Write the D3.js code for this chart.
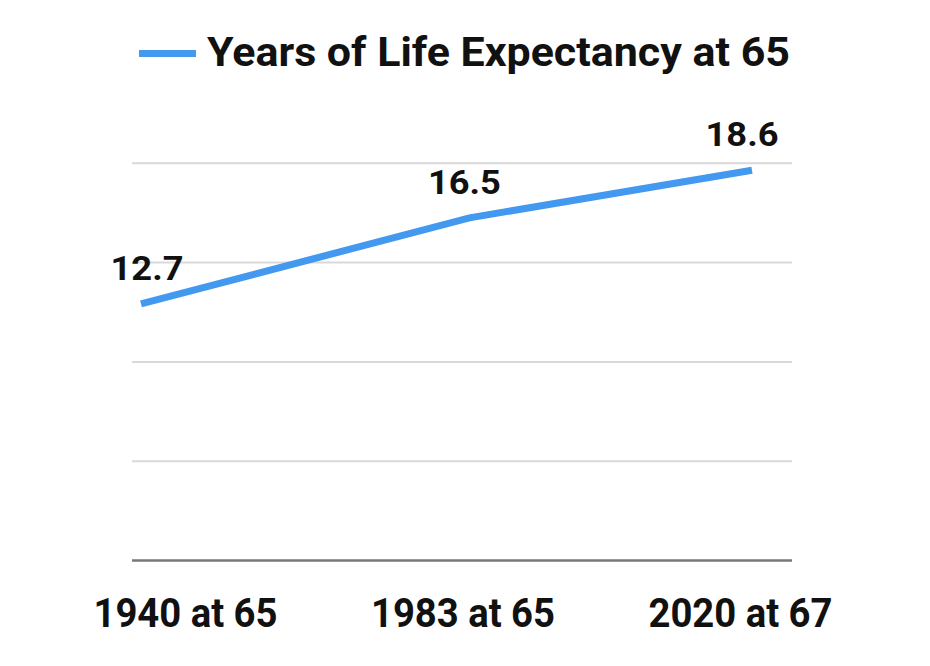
<!DOCTYPE html>
<html>
<head>
<meta charset="utf-8">
<script src="https://cdn.jsdelivr.net/npm/d3@7"></script>
<style>
  html, body { margin: 0; padding: 0; background: #fff; }
  svg { display: block; }
  text { font-family: Roboto, "Liberation Sans", sans-serif; fill: #111; }
</style>
</head>
<body>
<svg id="chart" width="930" height="666"></svg>
<script>
// ---- data ----
const categories = ["1940 at 65", "1983 at 65", "2020 at 67"];
const years = [1940, 1983, 2020];
const values = [12.7, 16.5, 18.6];
const seriesName = "Years of Life Expectancy at 65";
const gridCount = 5;

// ---- layout ----
const W = 930, H = 666;
const plotLeft = 132, plotRight = 792, plotTop = 163.3, plotBottom = 560.5;
const lineColor = "#4399ef";

const svg = d3.select("#chart");

const y = d3.scaleLinear().domain([1.37, 18.91]).range([plotBottom, plotTop]);
const xLine = d3.scaleLinear().domain([1940, 2020]).range([141, 752]);
const xAxis = d3.scalePoint().domain(categories).range([185, 740]);

// gridlines
const yDom = y.domain();
const gridVals = d3.range(gridCount).map(i => yDom[0] + i * (yDom[1] - yDom[0]) / (gridCount - 1));
svg.append("g").selectAll("line")
  .data(gridVals.slice(1))
  .join("line")
  .attr("x1", plotLeft).attr("x2", plotRight)
  .attr("y1", d => y(d)).attr("y2", d => y(d))
  .attr("stroke", "#d9d9d9").attr("stroke-width", 2);

// baseline
svg.append("line")
  .attr("x1", plotLeft).attr("x2", plotRight)
  .attr("y1", y(yDom[0])).attr("y2", y(yDom[0]))
  .attr("stroke", "#777").attr("stroke-width", 2.5);

// x axis labels
const axisG = svg.append("g").attr("transform", `translate(0,${plotBottom})`)
  .call(d3.axisBottom(xAxis).tickSize(0).tickPadding(0));
axisG.select(".domain").remove();
axisG.selectAll("text")
  .attr("y", 66).attr("dy", null)
  .style("font-family", "Roboto, sans-serif")
  .style("font-size", "40px").style("font-weight", 700)
  .style("fill", "#111")
  .attr("textLength", 184).attr("lengthAdjust", "spacingAndGlyphs");

// line
const pts = years.map((yr, i) => ({ yr, v: values[i] }));
svg.append("path")
  .datum(pts)
  .attr("fill", "none")
  .attr("stroke", lineColor)
  .attr("stroke-width", 7)
  .attr("stroke-linejoin", "miter")
  .attr("d", d3.line().x(d => xLine(d.yr)).y(d => y(d.v)));

// value labels
const fmt = d3.format(".1f");
svg.append("g").selectAll("text")
  .data(pts)
  .join("text")
  .attr("x", d => xLine(d.yr) + (d.yr === 1940 ? 6 : (d.yr === 2020 ? -10 : -5)))
  .attr("y", d => y(d.v) - 24)
  .attr("text-anchor", "middle")
  .style("font-size", "34px").style("font-weight", 700)
  .attr("textLength", 73).attr("lengthAdjust", "spacingAndGlyphs")
  .text(d => fmt(d.v));

// legend
svg.append("line")
  .attr("x1", 139).attr("x2", 196).attr("y1", 53.5).attr("y2", 53.5)
  .attr("stroke", lineColor).attr("stroke-width", 7);
svg.append("text")
  .attr("x", 207).attr("y", 66)
  .style("font-size", "41px").style("font-weight", 700)
  .attr("textLength", 583).attr("lengthAdjust", "spacingAndGlyphs")
  .text(seriesName);
</script>
</body>
</html>
